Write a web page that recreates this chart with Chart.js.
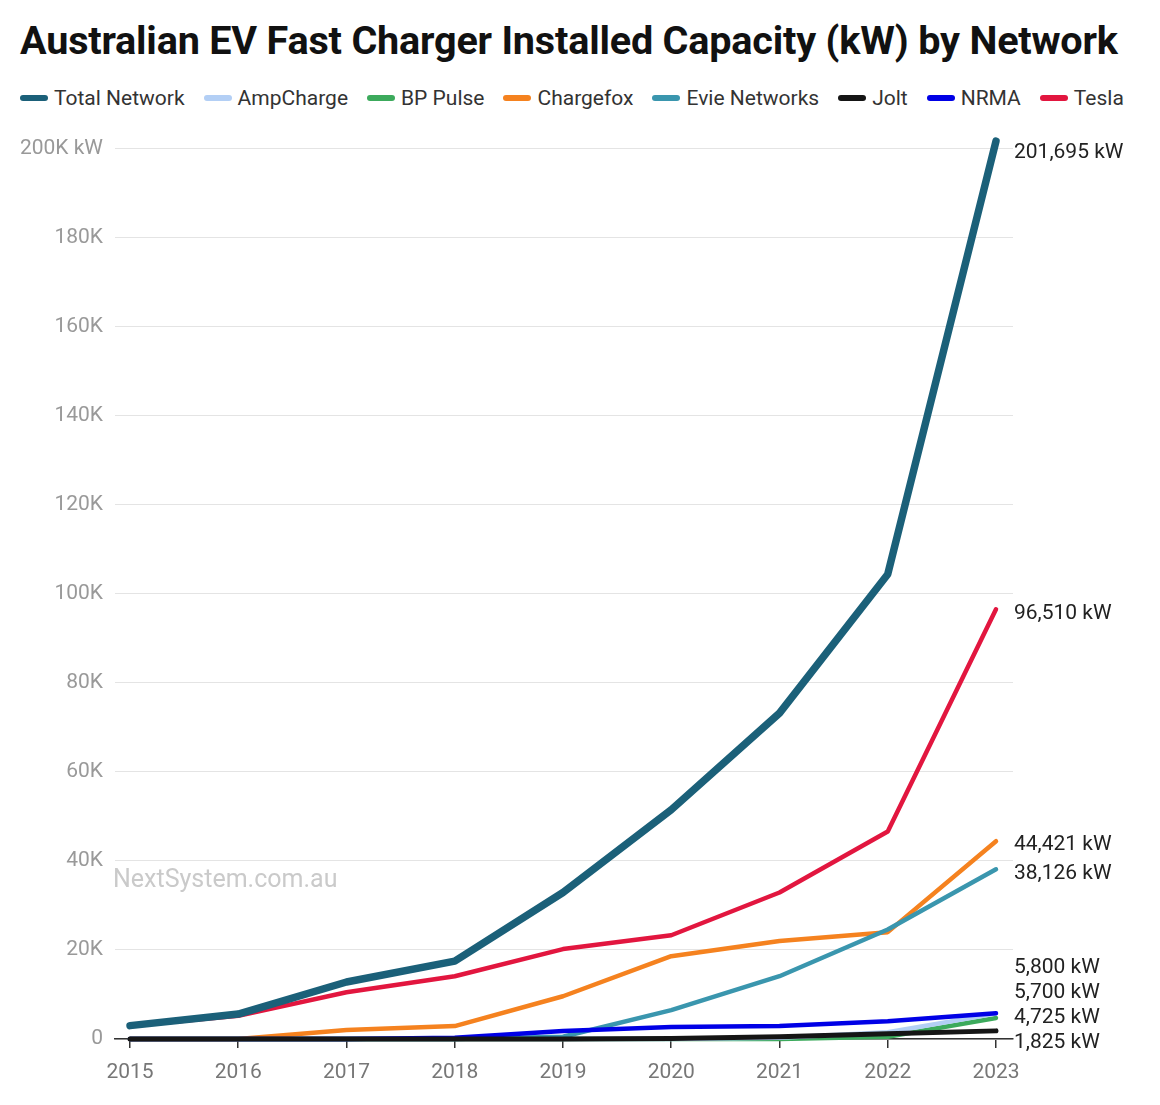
<!DOCTYPE html>
<html>
<head>
<meta charset="utf-8">
<script src="https://cdn.jsdelivr.net/npm/chart.js@4.4.1/dist/chart.umd.min.js"></script>
<style>
  html, body { margin: 0; padding: 0; background: #fff; }
  body { width: 1160px; height: 1105px; position: relative; overflow: hidden; font-family: Roboto, "Noto Sans", sans-serif; }
  #title { position: absolute; left: 20px; top: 17px; font-size: 39.6px; font-weight: 700; color: #111; white-space: nowrap; letter-spacing: -0.2px; }
  #legend { position: absolute; left: 20px; top: 86px; display: flex; font-size: 21px; color: #333; white-space: nowrap; }
  .item { display: flex; align-items: center; margin-right: 19px; }
  .swatch { width: 28px; height: 6px; border-radius: 3px; margin-right: 6px; }
  #wrap { position: absolute; left: 0; top: 124px; width: 1160px; height: 981px; }
</style>
</head>
<body>
<div id="title">Australian EV Fast Charger Installed Capacity (kW) by Network</div>
<div id="legend"></div>
<div id="wrap"><canvas id="chart"></canvas></div>
<script>
const years = [2015, 2016, 2017, 2018, 2019, 2020, 2021, 2022, 2023];

const totalNetwork = [3000, 5600, 12800, 17500, 32900, 51500, 73200, 104400, 201695];
const ampCharge = [0, 0, 0, 0, 0, 0, 300, 1500, 5700];
const bpPulse = [0, 0, 0, 0, 0, 0, 0, 500, 4725];
const chargefox = [0, 0, 2000, 2900, 9600, 18600, 22000, 24000, 44421];
const evieNetworks = [0, 0, 0, 0, 500, 6500, 14100, 24600, 38126];
const jolt = [0, 0, 0, 0, 0, 100, 500, 1200, 1825];
const nrma = [0, 0, 0, 300, 1800, 2700, 2900, 4000, 5800];
const tesla = [3000, 5200, 10500, 14100, 20200, 23300, 32900, 46600, 96510];

const yTicks = [0, 20000, 40000, 60000, 80000, 100000, 120000, 140000, 160000, 180000, 200000];

// order: lower number is drawn on top
const series = [
  { label: "Total Network", data: totalNetwork, color: "#1b6079", width: 7.5, order: 0 },
  { label: "AmpCharge", data: ampCharge, color: "#b3cff5", width: 4.5, order: 6 },
  { label: "BP Pulse", data: bpPulse, color: "#3caa5c", width: 4.5, order: 7 },
  { label: "Chargefox", data: chargefox, color: "#f5821f", width: 4.5, order: 5 },
  { label: "Evie Networks", data: evieNetworks, color: "#3a96ae", width: 4.5, order: 4 },
  { label: "Jolt", data: jolt, color: "#151515", width: 5, order: 2 },
  { label: "NRMA", data: nrma, color: "#0000e6", width: 4.5, order: 3 },
  { label: "Tesla", data: tesla, color: "#e2163f", width: 4.5, order: 1 },
];

// html legend
const legend = document.getElementById("legend");
series.forEach((s) => {
  const el = document.createElement("div");
  el.className = "item";
  el.innerHTML = `<span class="swatch" style="background:${s.color}"></span>${s.label}`;
  legend.appendChild(el);
});

const fmtK = (v) => (v === 0 ? "0" : v / 1000 + "K");

const endLabels = {
  id: "endLabels",
  afterDatasetsDraw(chart) {
    const { ctx, scales, chartArea } = chart;
    const x = scales.x.getPixelForValue(2023) + 18;
    const items = series
      .map((s) => {
        const v = s.data[s.data.length - 1];
        return { v, y: Math.max(scales.y.getPixelForValue(v) + 4, chartArea.top + 4) };
      })
      .sort((a, b) => a.v - b.v);
    // push labels upward so they don't overlap
    const gap = 25;
    items[0].y += 8;
    for (let i = 1; i < items.length; i++) {
      if (items[i].y > items[i - 1].y - gap) items[i].y = items[i - 1].y - gap;
    }
    ctx.save();
    ctx.font = "21px Roboto";
    ctx.fillStyle = "#222";
    ctx.textBaseline = "middle";
    ctx.textAlign = "left";
    items.forEach((it) => ctx.fillText(it.v.toLocaleString("en-US") + " kW", x, it.y));
    ctx.restore();
  },
  beforeDatasetsDraw(chart) {
    const { ctx, scales } = chart;
    ctx.save();
    ctx.font = "25px Roboto";
    ctx.fillStyle = "#cacaca";
    ctx.textBaseline = "middle";
    ctx.fillText("NextSystem.com.au", chart.chartArea.left - 2, scales.y.getPixelForValue(35500));
    ctx.restore();
  },
};

new Chart(document.getElementById("chart"), {
  type: "line",
  data: {
    labels: years,
    datasets: series.map((s) => ({
      label: s.label,
      data: s.data.map((v, i) => ({ x: years[i], y: v })),
      order: s.order,
      borderColor: s.color,
      backgroundColor: s.color,
      borderWidth: s.width,
      pointRadius: 0,
      tension: 0,
      clip: false,
      borderJoinStyle: "round",
      borderCapStyle: "round",
    })),
  },
  options: {
    responsive: true,
    maintainAspectRatio: false,
    animation: false,
    layout: { padding: { top: 22, right: 147, bottom: 16, left: 0 } },
    plugins: { legend: { display: false }, tooltip: { enabled: false }, title: { display: false } },
    scales: {
      x: {
        type: "linear",
        min: 2015 - 15 / 108.25,
        max: 2023 + 17 / 108.25,
        afterFit: (s) => { s.height = 50; },
        ticks: {
          stepSize: 1,
          includeBounds: false,
          autoSkip: false,
          padding: 12,
          color: "#777",
          font: { family: "Roboto", size: 21 },
          callback: (v) => (Number.isInteger(v) ? String(v) : ""),
        },
        grid: { drawOnChartArea: false, tickLength: 9, color: "#333", lineWidth: 1.5 },
        border: { display: true, color: "#333", width: 1.5 },
      },
      y: {
        min: 0,
        max: 200000,
        afterFit: (s) => { s.width = 115; },
        afterBuildTicks: (s) => { s.ticks = yTicks.map((v) => ({ value: v })); },
        ticks: {
          padding: 12,
          color: "#999",
          font: { family: "Roboto", size: 21 },
          callback: (v) => (v === 200000 ? "200K kW" : fmtK(v)),
        },
        grid: { drawTicks: false, color: "#e4e4e4", lineWidth: 1 },
        border: { display: false },
      },
    },
  },
  plugins: [endLabels],
});
</script>
</body>
</html>
